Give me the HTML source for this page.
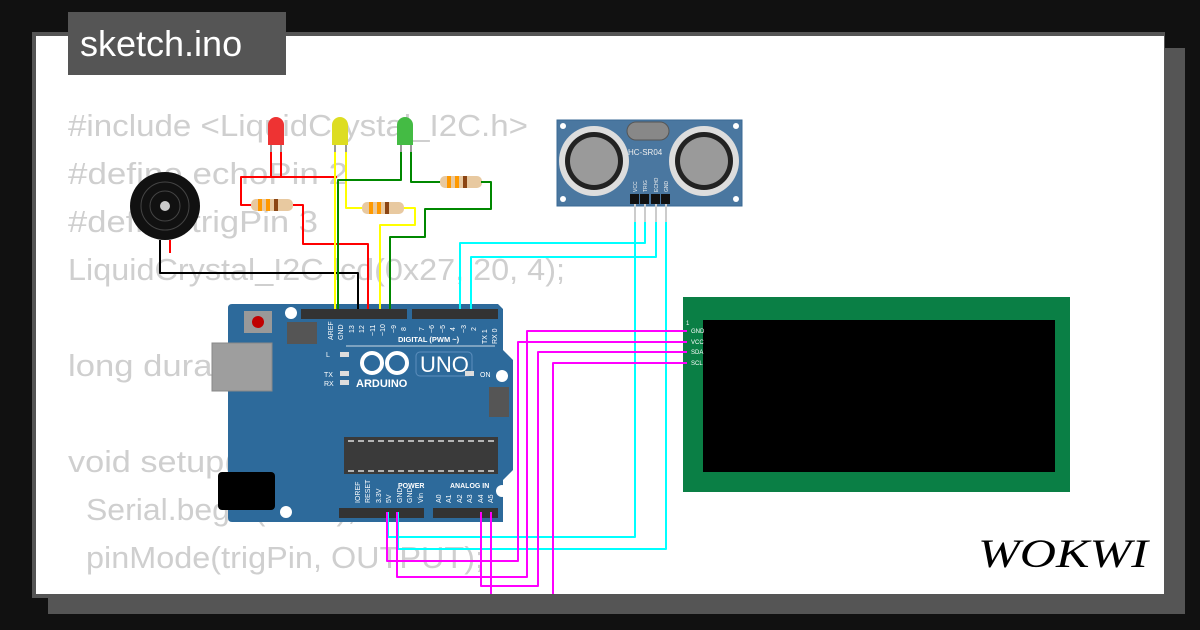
<!DOCTYPE html>
<html><head><meta charset="utf-8"><style>
html,body{margin:0;padding:0;background:#111;}
svg{display:block}
</style></head><body>
<svg width="1200" height="630" viewBox="0 0 1200 630" xmlns="http://www.w3.org/2000/svg">
<rect width="1200" height="630" fill="#111"/>
<rect x="48" y="48" width="1137" height="566" fill="#555"/>
<rect x="32" y="32" width="1133" height="566" fill="#555"/>
<rect x="36" y="36" width="1128" height="558" fill="#fff"/>
<clipPath id="pc"><rect x="36" y="36" width="1128" height="558"/></clipPath>
<g clip-path="url(#pc)">
<g font-family="'Liberation Sans',sans-serif" font-size="31" fill="#cfcfcf">
<text x="68" y="136" textLength="460" lengthAdjust="spacingAndGlyphs">#include &lt;LiquidCrystal_I2C.h&gt;</text>
<text x="68" y="184" textLength="280" lengthAdjust="spacingAndGlyphs">#define echoPin 2</text>
<text x="68" y="232" textLength="250" lengthAdjust="spacingAndGlyphs">#define trigPin 3</text>
<text x="68" y="280" textLength="497" lengthAdjust="spacingAndGlyphs">LiquidCrystal_I2C lcd(0x27, 20, 4);</text>
<text x="68" y="376" textLength="210" lengthAdjust="spacingAndGlyphs">long duration;</text>
<text x="68" y="472" textLength="200" lengthAdjust="spacingAndGlyphs">void setup() {</text>
<text x="86" y="520" textLength="270" lengthAdjust="spacingAndGlyphs">Serial.begin(9600);</text>
<text x="86" y="568" textLength="398" lengthAdjust="spacingAndGlyphs">pinMode(trigPin, OUTPUT);</text>
<text x="86" y="616" textLength="380" lengthAdjust="spacingAndGlyphs">pinMode(echoPin, INPUT);</text>
</g>

<!-- Arduino board -->
<path d="M232,304 H498 L503,309 V350 L513,360 V470 L503,480 V522 H232 Q228,522 228,518 V308 Q228,304 232,304 Z" fill="#2d6a9b"/>
<rect x="212" y="343" width="60" height="48" fill="#9e9e9e" stroke="#888"/>
<rect x="218" y="472" width="57" height="38" rx="4" fill="#000"/>
<rect x="244" y="311" width="28" height="22" fill="#999"/>
<circle cx="258" cy="322" r="6" fill="#c00000"/>
<circle cx="291" cy="313" r="6" fill="#fff"/>
<circle cx="502" cy="376" r="6" fill="#fff"/>
<circle cx="502" cy="491" r="6" fill="#fff"/>
<circle cx="286" cy="512" r="6" fill="#fff"/>
<rect x="287" y="322" width="30" height="22" fill="#555"/>
<rect x="489" y="387" width="20" height="30" fill="#555"/>
<rect x="301" y="309" width="106" height="10" fill="#333"/>
<rect x="412" y="309" width="86" height="10" fill="#333"/>
<rect x="339" y="508" width="85" height="10" fill="#333"/>
<rect x="433" y="508" width="65" height="10" fill="#333"/>
<rect x="344" y="437" width="154" height="37" fill="#3a3a3a"/>
<line x1="348" y1="441" x2="496" y2="441" stroke="#ddd" stroke-width="1.5" stroke-dasharray="6 4"/>
<line x1="348" y1="471" x2="496" y2="471" stroke="#ddd" stroke-width="1.5" stroke-dasharray="6 4"/>
<g fill="none" stroke="#fff" stroke-width="4">
<circle cx="372" cy="363" r="10"/><circle cx="397" cy="363" r="10"/>
</g>
<rect x="416" y="352" width="56" height="24" rx="4" fill="none" stroke="#5d8fbd"/>
<text x="420" y="372" font-family="'Liberation Sans',sans-serif" font-size="22" fill="#fff">UNO</text>
<text x="356" y="387" font-family="'Liberation Sans',sans-serif" font-size="11" font-weight="bold" fill="#fff">ARDUINO</text>
<text x="398" y="342" font-family="'Liberation Sans',sans-serif" font-size="7.5" font-weight="bold" fill="#fff">DIGITAL (PWM ~)</text>
<line x1="346" y1="346" x2="495" y2="346" stroke="#fff" stroke-width="0.8"/>
<text x="398" y="488" font-family="'Liberation Sans',sans-serif" font-size="7" font-weight="bold" fill="#fff">POWER</text>
<text x="450" y="488" font-family="'Liberation Sans',sans-serif" font-size="7" font-weight="bold" fill="#fff">ANALOG IN</text>
<g font-family="'Liberation Sans',sans-serif" font-size="7" fill="#fff">
<text x="326" y="357">L</text><text x="324" y="377">TX</text><text x="324" y="386">RX</text><text x="480" y="377">ON</text>
</g>
<g font-family="'Liberation Sans',sans-serif" font-size="7" fill="#fff">
<text transform="translate(333,340) rotate(-90)">AREF</text>
<text transform="translate(343,340) rotate(-90)">GND</text>
<text transform="translate(354,333) rotate(-90)">13</text>
<text transform="translate(364,333) rotate(-90)">12</text>
<text transform="translate(375,336) rotate(-90)">~11</text>
<text transform="translate(385,336) rotate(-90)">~10</text>
<text transform="translate(396,333) rotate(-90)">~9</text>
<text transform="translate(406,331) rotate(-90)">8</text>
<text transform="translate(424,331) rotate(-90)">7</text>
<text transform="translate(434,333) rotate(-90)">~6</text>
<text transform="translate(445,333) rotate(-90)">~5</text>
<text transform="translate(455,331) rotate(-90)">4</text>
<text transform="translate(466,333) rotate(-90)">~3</text>
<text transform="translate(476,331) rotate(-90)">2</text>
<text transform="translate(487,344) rotate(-90)">TX 1</text>
<text transform="translate(497,344) rotate(-90)">RX 0</text>
<text transform="translate(360,503) rotate(-90)">IOREF</text>
<text transform="translate(370,503) rotate(-90)">RESET</text>
<text transform="translate(381,503) rotate(-90)">3.3V</text>
<text transform="translate(391,503) rotate(-90)">5V</text>
<text transform="translate(402,503) rotate(-90)">GND</text>
<text transform="translate(412,503) rotate(-90)">GND</text>
<text transform="translate(423,503) rotate(-90)">Vin</text>
<text transform="translate(441,503) rotate(-90)">A0</text>
<text transform="translate(451,503) rotate(-90)">A1</text>
<text transform="translate(462,503) rotate(-90)">A2</text>
<text transform="translate(472,503) rotate(-90)">A3</text>
<text transform="translate(483,503) rotate(-90)">A4</text>
<text transform="translate(493,503) rotate(-90)">A5</text>
</g>
<g fill="#ddd"><rect x="340" y="352" width="9" height="5"/><rect x="340" y="371" width="9" height="5"/><rect x="340" y="380" width="9" height="5"/><rect x="465" y="371" width="9" height="5"/></g>

<!-- HC-SR04 -->
<rect x="557" y="120" width="185" height="86" fill="#4a77a0" stroke="#3a6a94"/>
<circle cx="594" cy="161" r="35" fill="#ddd"/><circle cx="594" cy="161" r="29" fill="#222"/><circle cx="594" cy="161" r="24" fill="#9a9a9a"/>
<circle cx="704" cy="161" r="35" fill="#ddd"/><circle cx="704" cy="161" r="29" fill="#222"/><circle cx="704" cy="161" r="24" fill="#9a9a9a"/>
<rect x="627" y="122" width="42" height="18" rx="9" fill="#888" stroke="#555"/>
<text x="628" y="155" font-family="'Liberation Sans',sans-serif" font-size="8" fill="#eee">HC-SR04</text>
<g font-family="'Liberation Sans',sans-serif" font-size="5" fill="#eee">
<text transform="translate(637,192) rotate(-90)">VCC</text>
<text transform="translate(647,192) rotate(-90)">TRIG</text>
<text transform="translate(658,192) rotate(-90)">ECHO</text>
<text transform="translate(668,192) rotate(-90)">GND</text>
</g>
<g fill="#fff"><circle cx="563" cy="126" r="3"/><circle cx="736" cy="126" r="3"/><circle cx="563" cy="199" r="3"/><circle cx="736" cy="199" r="3"/></g>
<g fill="#111"><rect x="630" y="194" width="9" height="10"/><rect x="640" y="194" width="9" height="10"/><rect x="651" y="194" width="9" height="10"/><rect x="661" y="194" width="9" height="10"/></g>
<g stroke="#ccc" stroke-width="2"><line x1="635" y1="204" x2="635" y2="222"/><line x1="645" y1="204" x2="645" y2="222"/><line x1="656" y1="204" x2="656" y2="222"/><line x1="666" y1="204" x2="666" y2="222"/></g>

<!-- LCD -->
<rect x="683" y="297" width="387" height="195" fill="#0a7f45"/>
<rect x="703" y="320" width="352" height="152" fill="#000"/>
<g font-family="'Liberation Sans',sans-serif" font-size="6" fill="#fff">
<text x="686" y="325">1</text><text x="691" y="333">GND</text><text x="691" y="344">VCC</text><text x="691" y="354">SDA</text><text x="691" y="365">SCL</text></g>

<!-- Buzzer -->
<ellipse cx="165" cy="206" rx="35" ry="34" fill="#111"/>
<circle cx="165" cy="206" r="24" fill="none" stroke="#444"/>
<circle cx="165" cy="206" r="15" fill="none" stroke="#444"/>
<circle cx="165" cy="206" r="5" fill="#ccc"/>

<!-- LEDs -->
<g>
<path d="M268,145 V125 a8,8 0 0 1 16,0 V145 Z" fill="#e33"/>
<path d="M332,145 V125 a8,8 0 0 1 16,0 V145 Z" fill="#dd2"/>
<path d="M397,145 V125 a8,8 0 0 1 16,0 V145 Z" fill="#4b4"/>
</g>
<g stroke="#999" stroke-width="2">
<line x1="271" y1="145" x2="271" y2="152"/><line x1="281" y1="145" x2="281" y2="152"/>
<line x1="335" y1="145" x2="335" y2="152"/><line x1="346" y1="145" x2="346" y2="152"/>
<line x1="401" y1="145" x2="401" y2="152"/><line x1="411" y1="145" x2="411" y2="152"/>
</g>
<!-- resistors -->
<g>
<line x1="243" y1="205" x2="303" y2="205" stroke="#aaa" stroke-width="2"/>
<rect x="251" y="199" width="42" height="12" rx="5" fill="#e8c9a0"/>
<line x1="354" y1="208" x2="415" y2="208" stroke="#aaa" stroke-width="2"/>
<rect x="362" y="202" width="42" height="12" rx="5" fill="#e8c9a0"/>
<line x1="428" y1="182" x2="491" y2="182" stroke="#aaa" stroke-width="2"/>
<rect x="440" y="176" width="42" height="12" rx="5" fill="#e8c9a0"/>
<g fill="#f90"><rect x="258" y="199" width="4" height="12"/><rect x="266" y="199" width="4" height="12"/><rect x="369" y="202" width="4" height="12"/><rect x="377" y="202" width="4" height="12"/><rect x="447" y="176" width="4" height="12"/><rect x="455" y="176" width="4" height="12"/></g>
<g fill="#8b4513"><rect x="274" y="199" width="4" height="12"/><rect x="385" y="202" width="4" height="12"/><rect x="463" y="176" width="4" height="12"/></g>
</g>

<!-- wires -->
<g fill="none" stroke-width="2" stroke-linejoin="round">
<path d="M271,152 V177 M281,152 V177 M337,177 H241 V205 H251 M293,205 H303 V244 H368 V309" stroke="#f00"/>
<path d="M170,240 V253" stroke="#f00"/>
<path d="M160,240 V273 H358 V309" stroke="#000"/>
<path d="M335,152 V309 M346,152 V208 H362 M404,208 H415 V225 H380 V309" stroke="#ff0"/>
<path d="M401,152 V180 H338 V309 M411,152 V182 H440 M481,182 H491 V209 H425 V237 H390 V309" stroke="#080"/>
<path d="M645,222 V243 H460 V309 M656,222 V257 H471 V309 M635,222 V537 H388 V512 M666,222 V549 H398 V512" stroke="#0ff"/>
<path d="M687,331 H527 V577 H397 V512 M687,342 H518 V561 H387 V512 M687,352 H538 V586 H481 V512 M687,363 H553 V600 M491,512 V600" stroke="#f0f"/>
</g>

<!-- logo -->
<text x="978" y="567" font-family="'Liberation Serif',serif" font-style="italic" font-size="40" fill="#000" textLength="170" lengthAdjust="spacingAndGlyphs">WOKWI</text>
</g>

<rect x="68" y="12" width="218" height="63" fill="#555"/>
<text x="80" y="56" font-family="'Liberation Sans',sans-serif" font-size="36" fill="#fff">sketch.ino</text>
</svg>
</body></html>
